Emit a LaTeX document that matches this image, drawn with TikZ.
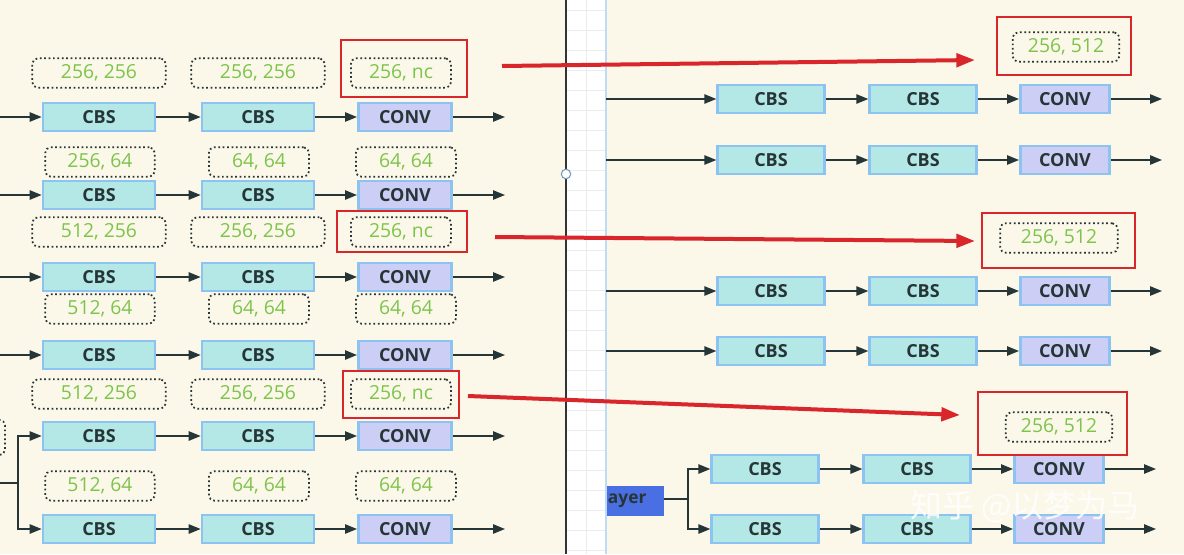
\documentclass[tikz,border=0pt]{standalone}
\usepackage{fontspec}
\setmainfont{Open Sans}
\newfontfamily\cjk{Noto Sans CJK SC}
\usetikzlibrary{arrows.meta}
\definecolor{bg}{HTML}{FBF7E9}
\definecolor{cbsf}{HTML}{B4E8E6}
\definecolor{cbsd}{HTML}{8DC3F0}
\definecolor{convf}{HTML}{CCCEF5}
\definecolor{grn}{HTML}{7DC44A}
\definecolor{txt}{HTML}{263535}
\definecolor{rd}{HTML}{D9262B}
\definecolor{lay}{HTML}{4A6FE3}
\begin{document}
\begin{tikzpicture}[x=0.75pt,y=-0.75pt,
 blk/.style={draw=cbsd,line width=2pt,minimum height=21pt,inner sep=0pt,font=\bfseries\fontsize{13.5}{13.5}\selectfont,text=txt},
 cbs/.style={blk,fill=cbsf,minimum width=84pt},
 conv/.style={blk,fill=convf,minimum width=70pt},
 lab/.style={draw=txt,dotted,line width=1.3pt,rounded corners=4pt,minimum height=22pt,inner sep=0pt,text=grn,font=\fontsize{14.5}{14.5}\selectfont},
 red/.style={draw=rd,line width=1.5pt},
 arr/.style={-{Triangle[length=9pt,width=7pt]},line width=1.2pt,draw=txt},
 rarr/.style={-{Triangle[length=14pt,width=10pt]},line width=3pt,draw=rd}]
\fill[bg] (0,0) rectangle (1184,554);
\useasboundingbox (0,0) rectangle (1184,554);
% divider
\fill[white] (567,0) rectangle (606,554);
\foreach \y in {10,30,...,550} \draw[black!8] (567,\y) -- (606,\y);
\draw[black!8] (586,0) -- (586,554);
\draw[cbsd!60,line width=2pt] (606,0) -- (606,554);
\draw[black!80,line width=1.5pt] (566,0) -- (566,554);
\node[draw=cbsd!80!black,fill=white,circle,inner sep=2.5pt,line width=0.8pt] (dot) at (566,174) {};
% left rows
\foreach \n/\y in {a/117,b/195,c/277,d/355,e/436,f/529}{
 \node[cbs] (\n1) at (99,\y) {CBS};
 \node[cbs] (\n2) at (258,\y) {CBS};
 \node[conv] (\n3) at (405,\y) {CONV};
 \coordinate (\n o) at (505,\y);
 \draw[arr] (\n1) -- (\n2); \draw[arr] (\n2) -- (\n3); \draw[arr] (\n3) -- (\n o);
}
\foreach \n/\y in {a/117,b/195,c/277,d/355}{
 \coordinate (\n i) at (0,\y); \draw[arr] (\n i) -- (\n1);}
\coordinate (lin) at (0,483);
\coordinate (lbr) at (18,483);
\draw[line width=1.2pt,txt] (lin) -- (lbr);
\draw[arr] (lbr) |- (e1); \draw[arr] (lbr) |- (f1);
\draw[txt,dotted,line width=1.3pt,rounded corners=4pt] (-10,420) -- (5,420) -- (5,455) -- (-10,455);
% left labels
\foreach \n/\y/\p/\q/\r in {1/73/{256, 256}/{256, 256}/{256, nc},3/232/{512, 256}/{256, 256}/{256, nc},5/394/{512, 256}/{256, 256}/{256, nc}}{
 \node[lab,minimum width=100pt] (la\n) at (99,\y) {\p};
 \node[lab,minimum width=100pt] (lb\n) at (258,\y) {\q};
 \node[lab,minimum width=75pt] (lc\n) at (401,\y) {\r};
}
\foreach \n/\y/\p in {2/162/{256, 64},4/309/{512, 64},6/486/{512, 64}}{
 \node[lab,minimum width=82pt] (la\n) at (100,\y) {\p};
 \node[lab,minimum width=75pt] (lb\n) at (259,\y) {64, 64};
 \node[lab,minimum width=75pt] (lc\n) at (406,\y) {64, 64};
}
\draw[red] (341,40) rectangle (467,97);
\draw[red] (337,211) rectangle (467,252);
\draw[red] (343,371) rectangle (459,418);
% right rows
\foreach \n/\y/\s in {g/99/0,h/160/0,i/291/0,j/351/0,k/469/-6,l/529/-6}{
 \node[cbs,minimum width=80pt] (\n1) at (771+\s,\y) {CBS};
 \node[cbs,minimum width=80pt] (\n2) at (923+\s,\y) {CBS};
 \node[conv,minimum width=67pt] (\n3) at (1065+\s,\y) {CONV};
 \coordinate (\n o) at (1162+\s,\y);
 \draw[arr] (\n1) -- (\n2); \draw[arr] (\n2) -- (\n3); \draw[arr] (\n3) -- (\n o);
}
\foreach \n/\y in {g/99,h/160,i/291,j/351}{
 \coordinate (\n i) at (606,\y); \draw[arr] (\n i) -- (\n1);}
\fill[lay] (607,486) rectangle (664,516);
\node[font=\bfseries\fontsize{13}{13}\selectfont,text=txt,anchor=east,inner sep=1pt] (layer) at (648,501) {ayer};
\coordinate (rbr) at (688,499);
\draw[line width=1.2pt,txt] (664,499) -- (rbr);
\draw[arr] (rbr) |- (k1); \draw[arr] (rbr) |- (l1);
% right labels
\node[lab,minimum width=80pt] (r1) at (1066,47) {256, 512};
\node[lab,minimum width=88pt] (r2) at (1059,238) {256, 512};
\node[lab,minimum width=80pt] (r3) at (1059,427) {256, 512};
\draw[red] (997,17) rectangle (1131,75);
\draw[red] (982,213) rectangle (1135,268);
\draw[red] (978,392) rectangle (1127,455);
% red arrows
\coordinate (s1) at (502,66); \coordinate (t1) at (975,60);
\coordinate (s2) at (495,237); \coordinate (t2) at (975,241);
\coordinate (s3) at (468,396); \coordinate (t3) at (960,415);
\draw[rarr] (s1) -- (t1); \draw[rarr] (s2) -- (t2); \draw[rarr] (s3) -- (t3);
\node[text=white,opacity=0.85,font=\cjk\fontsize{24}{24}\selectfont] (wm) at (1025,507) {知乎 @以梦为马};
\end{tikzpicture}
\end{document}
